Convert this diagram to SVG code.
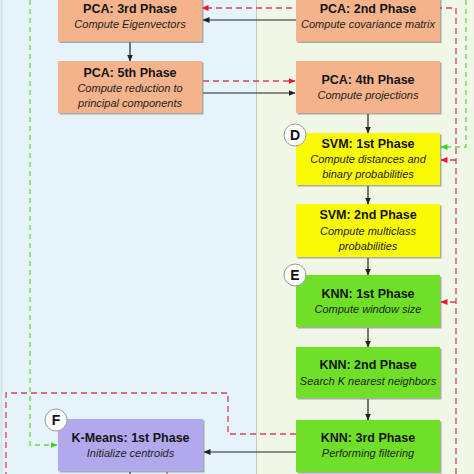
<svg xmlns="http://www.w3.org/2000/svg" width="474" height="474" viewBox="0 0 474 474">
<style>
.t{font-family:"Liberation Sans",Arial,sans-serif;font-weight:bold;font-size:12.5px;fill:#141414;text-anchor:middle}
.s{font-family:"Liberation Sans",Arial,sans-serif;font-style:italic;font-size:11px;fill:#1e1e1e;text-anchor:middle}
.sh{fill:#6d6d6d;opacity:0.55}
.pca{fill:#F5B38B}
.svm{fill:#FAFA05}
.knn{fill:#6FE027}
.km{fill:#B2A8EE}
.blk{stroke:#222;stroke-width:1.2;fill:none}
.red{stroke:#DC3F5A;stroke-width:1.3;fill:none;stroke-dasharray:6 4}
.grn{stroke:#6FD250;stroke-width:1.3;fill:none;stroke-dasharray:5 4}
.lab{fill:#fff;stroke:#9a9a9a;stroke-width:1}
.lt{font-family:"Liberation Sans",Arial,sans-serif;font-weight:bold;font-size:14px;fill:#111;text-anchor:middle}
</style>
<defs>
<marker id="ab" markerWidth="7" markerHeight="6" refX="6.5" refY="3" orient="auto" markerUnits="userSpaceOnUse"><path d="M0,0 L7,3 L0,6 Z" fill="#222"/></marker>
<marker id="ar" markerWidth="7" markerHeight="6" refX="6.5" refY="3" orient="auto" markerUnits="userSpaceOnUse"><path d="M0,0 L7,3 L0,6 Z" fill="#E8182E"/></marker>
<marker id="ag" markerWidth="7" markerHeight="6" refX="6.5" refY="3" orient="auto" markerUnits="userSpaceOnUse"><path d="M0,0 L7,3 L0,6 Z" fill="#3ED21E"/></marker>
</defs>
<rect x="0" y="0" width="257" height="474" fill="#E5F4FA"/>
<rect x="257" y="0" width="217" height="474" fill="#F1F7E6"/>
<line x1="256.5" y1="0" x2="256.5" y2="474" stroke="#C2CCBC" stroke-width="1"/>
<line x1="1.5" y1="0" x2="1.5" y2="474" stroke="#D6E4EA" stroke-width="2"/>

<g id="connectors">
<polyline class="red" points="456,474 456,8 202,8" marker-end="url(#ar)"/>
<line class="blk" x1="296" y1="20" x2="203" y2="20" marker-end="url(#ab)"/>
<line class="blk" x1="130" y1="42" x2="130" y2="61" marker-end="url(#ab)"/>
<line class="red" x1="203" y1="81" x2="295" y2="81" marker-end="url(#ar)"/>
<line class="blk" x1="203" y1="93" x2="295" y2="93" marker-end="url(#ab)"/>
<line class="blk" x1="368" y1="114" x2="368" y2="133" marker-end="url(#ab)"/>
<polyline class="grn" points="466,0 466,147 441,147" marker-end="url(#ag)"/>
<line class="red" x1="456" y1="160" x2="441" y2="160" marker-end="url(#ar)"/>
<line class="blk" x1="368" y1="186" x2="368" y2="204" marker-end="url(#ab)"/>
<line class="blk" x1="368" y1="258" x2="368" y2="275" marker-end="url(#ab)"/>
<line class="red" x1="456" y1="302" x2="441" y2="302" marker-end="url(#ar)"/>
<line class="blk" x1="368" y1="328" x2="368" y2="347" marker-end="url(#ab)"/>
<line class="blk" x1="368" y1="399" x2="368" y2="420" marker-end="url(#ab)"/>
<polyline class="red" points="296,434 228,434 228,393 6,393 6,474"/>
<polyline class="grn" points="30,0 30,445 57,445" marker-end="url(#ag)"/>
<line class="blk" x1="296" y1="452" x2="204" y2="452" marker-end="url(#ab)"/>
<line class="blk" x1="130" y1="472" x2="130" y2="474"/>
<line class="red" x1="167" y1="472" x2="167" y2="474" style="stroke-dasharray:none"/>
</g>

<g id="pca3">
<rect class="sh" x="59.5" y="-5" width="144" height="48"/>
<rect class="pca" x="58" y="-5" width="144" height="46.5"/>
<text class="t" x="130" y="13">PCA: 3rd Phase</text>
<text class="s" x="130" y="27.5">Compute Eigenvectors</text>
</g>
<g id="pca2">
<rect class="sh" x="297.5" y="-5" width="144" height="48"/>
<rect class="pca" x="296" y="-5" width="144" height="46.5"/>
<text class="t" x="368" y="13">PCA: 2nd Phase</text>
<text class="s" x="368" y="27.5">Compute covariance matrix</text>
</g>
<g id="pca5">
<rect class="sh" x="59.5" y="62.5" width="144" height="52"/>
<rect class="pca" x="58" y="61" width="144" height="52"/>
<text class="t" x="130" y="77">PCA: 5th Phase</text>
<text class="s" x="130" y="92">Compute reduction to</text>
<text class="s" x="130" y="107">principal components</text>
</g>
<g id="pca4">
<rect class="sh" x="297.5" y="62.5" width="144" height="52"/>
<rect class="pca" x="296" y="61" width="144" height="52"/>
<text class="t" x="368" y="84">PCA: 4th Phase</text>
<text class="s" x="368" y="99">Compute projections</text>
</g>
<g id="svm1">
<rect class="sh" x="297.5" y="134.5" width="144" height="52"/>
<rect class="svm" x="296" y="133" width="144" height="52"/>
<text class="t" x="368" y="148">SVM: 1st Phase</text>
<text class="s" x="368" y="163">Compute distances and</text>
<text class="s" x="368" y="178">binary probabilities</text>
<circle class="lab" cx="295" cy="135" r="11"/>
<text class="lt" x="295" y="140">D</text>
</g>
<g id="svm2">
<rect class="sh" x="297.5" y="205.5" width="144" height="53"/>
<rect class="svm" x="296" y="204" width="144" height="53"/>
<text class="t" x="368" y="219">SVM: 2nd Phase</text>
<text class="s" x="368" y="235">Compute multiclass</text>
<text class="s" x="368" y="250">probabilities</text>
</g>
<g id="knn1">
<rect class="sh" x="297.5" y="276.5" width="144" height="52"/>
<rect class="knn" x="296" y="275" width="144" height="52"/>
<text class="t" x="368" y="298">KNN: 1st Phase</text>
<text class="s" x="368" y="313">Compute window size</text>
<circle class="lab" cx="295" cy="275" r="11"/>
<text class="lt" x="295" y="280">E</text>
</g>
<g id="knn2">
<rect class="sh" x="297.5" y="348.5" width="144" height="51"/>
<rect class="knn" x="296" y="347" width="144" height="51"/>
<text class="t" x="368" y="369">KNN: 2nd Phase</text>
<text class="s" x="368" y="385">Search K nearest neighbors</text>
</g>
<g id="knn3">
<rect class="sh" x="297.5" y="421.5" width="144" height="52"/>
<rect class="knn" x="296" y="420" width="144" height="52"/>
<text class="t" x="368" y="442">KNN: 3rd Phase</text>
<text class="s" x="368" y="457">Performing filtering</text>
</g>
<g id="kmeans1">
<rect class="sh" x="59.5" y="420.5" width="145" height="52"/>
<rect class="km" x="58" y="419" width="145" height="52"/>
<text class="t" x="130.5" y="442">K-Means: 1st Phase</text>
<text class="s" x="130.5" y="457">Initialize centroids</text>
<circle class="lab" cx="56" cy="420" r="11"/>
<text class="lt" x="56" y="425">F</text>
</g>
</svg>
